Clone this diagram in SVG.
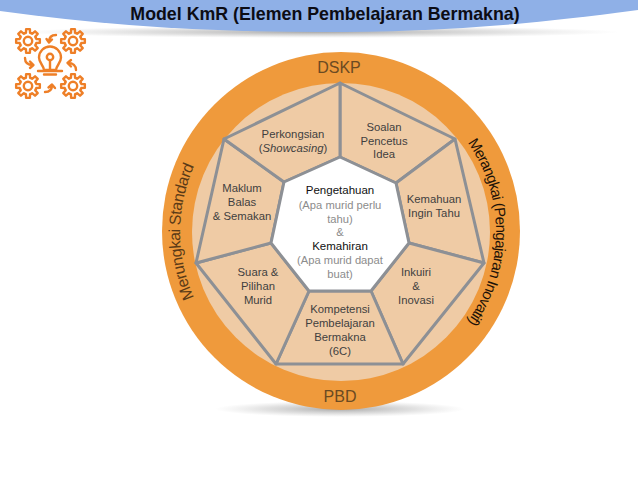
<svg xmlns="http://www.w3.org/2000/svg" width="638" height="478" viewBox="0 0 638 478">
<style>
text{font-family:"Liberation Sans",Arial,sans-serif}
.t{font-size:11.300px;fill:#3f3f3f;text-anchor:middle}
.g{font-size:11.200px;fill:#8c8c8c;text-anchor:middle}
.b{font-size:11.500px;fill:#111;text-anchor:middle}
.seg{fill:#EFCBA5;stroke:#8D9095;stroke-width:3;stroke-linejoin:round}
.lab{font-size:16px;fill:#6b4a22;text-anchor:middle}
.arcl{font-size:16px;letter-spacing:-.5px;text-anchor:middle;fill:#5b3a17}
.arcr{font-size:15px;letter-spacing:-.75px;text-anchor:middle;fill:#1d1208}
.ic{fill:none;stroke:#EE7F27;stroke-width:2.400;stroke-linecap:round;stroke-linejoin:round}
</style>
<defs>
<radialGradient id="sh"><stop offset="0" stop-color="#8b8b8b" stop-opacity=".75"/><stop offset=".6" stop-color="#aaa" stop-opacity=".35"/><stop offset="1" stop-color="#bbb" stop-opacity="0"/></radialGradient>
<path id="tooth" d="M-3.250-7.850L-2.060-8.250L-1.880-11.850L1.880-11.850L2.060-8.250L3.250-7.850"/>
<g id="t2"><use href="#tooth"/><use href="#tooth" transform="rotate(45)"/></g>
<g id="gear"><use href="#t2"/><use href="#t2" transform="rotate(90)"/><use href="#t2" transform="rotate(180)"/><use href="#t2" transform="rotate(270)"/><circle r="4.200"/></g>
<path id="pL" d="M227.200 345.800A161 161 0 0 1 227.200 118.200" fill="none"/>
<path id="pR" d="M450.600 122.400A155 155 0 0 1 450.600 341.600" fill="none"/>
</defs>

<g id="banner">
<ellipse cx="319" cy="32" rx="300" ry="6" fill="url(#sh)"/>
<path d="M0 0H638V10C520 26 430 32 319 32C210 32 110 26 0 11Z" fill="#8FB0E7"/>
<text x="325" y="20" font-size="17.800px" font-weight="700" fill="#0c0c14" text-anchor="middle">Model KmR (Elemen Pembelajaran Bermakna)</text>
</g>

<g id="icon" class="ic">
<use href="#gear" x="28" y="41"/><use href="#gear" x="73" y="41"/><use href="#gear" x="28" y="86"/><use href="#gear" x="73" y="86"/>
<path d="M44 70C44 66 39 63 39 57.500A11 11 0 0 1 61 57.500C61 63 56 66 56 70H44Z"/>
<circle cx="50" cy="57" r="3.200"/><path d="M50 60.500V70M38 71H62M44 74.500H56"/>
<path d="M56 35C52 35 49 37 49 42M46.500 39L49 42.500L52 39.500"/>
<path d="M25 58C25 63 28 65 33 65M30 61.500L33.500 65L30 68"/>
<path d="M76 70C76 66 73 63 68 63M71 60L67.500 63L71 66.500"/>
<path d="M45 92C50 92 52 89 52 85M48.500 87.500L52 84.500L55 88"/>
</g>

<g id="disc">
<ellipse cx="340" cy="409" rx="125" ry="8" fill="url(#sh)"/>
<circle cx="341" cy="231" r="179" fill="#EF9A3C"/>
<circle cx="341" cy="232" r="149" fill="#EFCBA5"/>
<text class="lab" x="339" y="73">DSKP</text>
<text class="lab" x="340" y="402">PBD</text>
<text class="arcl"><textPath href="#pL" startOffset="50%">Merungkai Standard</textPath></text>
<text class="arcr"><textPath href="#pR" startOffset="50%">Merangkai (Pengajaran Inovatif)</textPath></text>
</g>

<g id="connectors"></g>

<g id="soalan"><polygon class="seg" points="340,83 455,139 396,183 340,157"/>
<text class="t" x="384" y="131">Soalan</text><text class="t" x="384" y="145">Pencetus</text><text class="t" x="384" y="158">Idea</text></g>
<g id="kemahuan"><polygon class="seg" points="455,139 484,263 409,243 396,183"/>
<text class="t" x="434" y="203">Kemahuan</text><text class="t" x="434" y="217">Ingin Tahu</text></g>
<g id="inkuiri"><polygon class="seg" points="484,263 403,364 371,291 409,243"/>
<text class="t" x="416" y="276">Inkuiri</text><text class="t" x="416" y="290">&amp;</text><text class="t" x="416" y="304">Inovasi</text></g>
<g id="kompetensi"><polygon class="seg" points="403,364 276,364 309,291 371,291"/>
<text class="t" x="340" y="313">Kompetensi</text><text class="t" x="340" y="327">Pembelajaran</text><text class="t" x="340" y="341">Bermakna</text><text class="t" x="340" y="355">(6C)</text></g>
<g id="suara"><polygon class="seg" points="276,364 196,263 271,243 309,291"/>
<text class="t" x="258" y="276">Suara &amp;</text><text class="t" x="258" y="290">Pilihan</text><text class="t" x="258" y="304">Murid</text></g>
<g id="maklum"><polygon class="seg" points="196,263 224,139 284,182 271,243"/>
<text class="t" x="242" y="192">Maklum</text><text class="t" x="242" y="206">Balas</text><text class="t" x="242" y="220">&amp; Semakan</text></g>
<g id="perkongsian"><polygon class="seg" points="224,139 340,83 340,157 284,182"/>
<text class="t" x="293" y="138">Perkongsian</text><text class="t" x="293" y="152">(<tspan font-style="italic">Showcasing</tspan>)</text></g>
<g id="pusat"><polygon points="340,157 396,183 409,243 371,291 309,291 271,243 284,182" fill="#fff" stroke="#8D9095" stroke-width="3" stroke-linejoin="round"/>
<text class="b" x="340" y="194">Pengetahuan</text>
<text class="g" x="340" y="209">(Apa murid perlu</text>
<text class="g" x="340" y="223">tahu)</text>
<text class="g" x="340" y="236">&amp;</text>
<text class="b" x="340" y="250">Kemahiran</text>
<text class="g" x="340" y="264">(Apa murid dapat</text>
<text class="g" x="340" y="278">buat)</text></g>
</svg>
